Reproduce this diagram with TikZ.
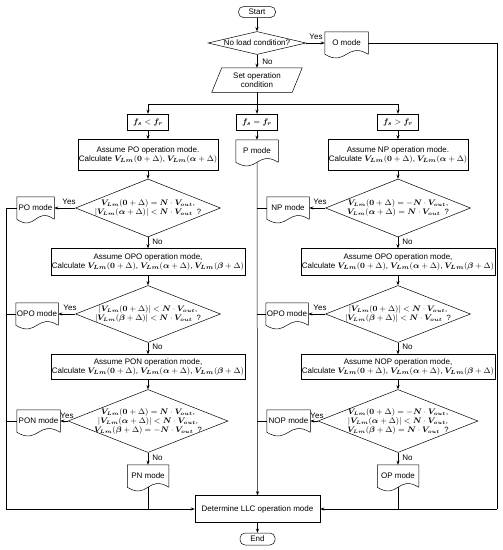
\documentclass[tikz,border=0pt]{standalone}
\usepackage{amsmath}
\usepackage[no-math]{fontspec}
\setmainfont{Liberation Sans}
\usetikzlibrary{shapes.geometric,arrows.meta,calc}
\newcommand{\VLm}[1]{\boldsymbol{V_{Lm}}(\boldsymbol{#1}+\Delta)}
\newcommand{\NV}{\boldsymbol{N}\cdot\boldsymbol{V_{out}}}
\begin{document}
\begin{tikzpicture}[x=1pt,y=-1pt,
  font=\fontsize{8}{9.6}\selectfont,
  line width=0.5pt,
  box/.style={draw, rectangle, align=center, inner sep=1pt},
  term/.style={draw, rectangle, rounded corners=5pt, inner sep=0pt, minimum width=37, minimum height=11},
  dec/.style={draw, diamond, inner sep=0pt, aspect=2},
  dtext/.style={align=center, font=\fontsize{7.6}{9}\selectfont},
  doc/.style={rectangle, inner sep=0pt, minimum width=42, minimum height=22, align=center},
  lab/.style={inner sep=0pt},
  arr/.style={-{Stealth[length=4pt,width=3pt]}}
]
\useasboundingbox (0,0) rectangle (503,550);

% top
\node[term] (start) at (257,12) {Start};
\node[dec, minimum width=98, minimum height=23, label=center:{No load condition?}] (d0) at (257,43) {};
\node[doc, minimum width=43] (omode) at (346.5,43) {O mode};
\node[rectangle, minimum width=90, minimum height=24, inner sep=0pt, align=center] (setop) at (257,80) {Set operation\\condition};
\draw ($(setop.south west)$) -- ($(setop.south east)+(-10,0)$) -- (setop.north east) -- ($(setop.north west)+(10,0)$) -- cycle;

% frequency boxes
\node[box, minimum width=41, minimum height=16] (fslt) at (148,122) {$\boldsymbol{f_s} < \boldsymbol{f_r}$};
\node[box, minimum width=41, minimum height=16] (fseq) at (257,122) {$\boldsymbol{f_s} = \boldsymbol{f_r}$};
\node[box, minimum width=41, minimum height=16] (fsgt) at (398,122) {$\boldsymbol{f_s} > \boldsymbol{f_r}$};
\coordinate (brL) at (148,104);
\coordinate (brR) at (398,104);
\node[doc] (pmode) at (257,151) {P mode};

% left column
\node[box, minimum width=131, minimum height=31] (po) at (148,155) {Assume PO operation mode.\\Calculate $\VLm{0}$, $\VLm{\alpha}$};
\node[dec, minimum width=145, minimum height=58, label={[dtext]center:{$\VLm{0} = \NV$,\\$|\VLm{\alpha}| < \NV$~~?}}] (dpo) at (148,208) {};
\node[doc, minimum width=37] (pomode) at (35.5,208) {PO mode};
\node[box, minimum width=178, minimum height=27] (opoL) at (148,262) {Assume OPO operation mode,\\Calculate $\VLm{0}$, $\VLm{\alpha}$, $\VLm{\beta}$};
\node[dec, minimum width=145, minimum height=57, label={[dtext]center:{$|\VLm{0}| < \NV$,\\$|\VLm{\beta}| < \NV$~~?}}] (dopoL) at (148,314) {};
\node[doc] (opomodeL) at (37,314) {OPO mode};
\node[box, minimum width=178, minimum height=25] (pon) at (148,367) {Assume PON operation mode,\\Calculate $\VLm{0}$, $\VLm{\alpha}$, $\VLm{\beta}$};
\node[dec, minimum width=160, minimum height=63, label={[dtext]center:{$\VLm{0} = \NV$,\\$|\VLm{\alpha}| < \NV$,\\$\VLm{\beta} = -\NV$~~?}}] (dpon) at (148,421) {};
\node[doc, minimum width=43] (ponmode) at (38.5,421) {PON mode};
\node[doc, minimum width=41] (pnmode) at (148,476) {PN mode};

% right column
\node[box, minimum width=131, minimum height=31] (np) at (398,155) {Assume NP operation mode.\\Calculate $\VLm{0}$, $\VLm{\alpha}$};
\node[dec, minimum width=145, minimum height=58, label={[dtext]center:{$\VLm{0} = -\NV$,\\$\VLm{\alpha} = \NV$~~?}}] (dnp) at (398,208) {};
\node[doc] (npmode) at (288,208) {NP mode};
\node[box, minimum width=178, minimum height=27] (opoR) at (398,262) {Assume OPO operation mode,\\Calculate $\VLm{0}$, $\VLm{\alpha}$, $\VLm{\beta}$};
\node[dec, minimum width=145, minimum height=57, label={[dtext]center:{$|\VLm{0}| < \NV$,\\$|\VLm{\beta}| < \NV$~~?}}] (dopoR) at (398,314) {};
\node[doc] (opomodeR) at (287,314) {OPO mode};
\node[box, minimum width=178, minimum height=25] (nop) at (398,367) {Assume NOP operation mode,\\Calculate $\VLm{0}$, $\VLm{\alpha}$, $\VLm{\beta}$};
\node[dec, minimum width=160, minimum height=63, label={[dtext]center:{$\VLm{0} = -\NV$,\\$|\VLm{\alpha}| < \NV$,\\$\VLm{\beta} = \NV$~~?}}] (dnop) at (398,421) {};
\node[doc, minimum width=43] (nopmode) at (288.5,421) {NOP mode};
\node[doc, minimum width=41] (opmode) at (398,476) {OP mode};

% bottom
\node[box, minimum width=125, minimum height=27] (det) at (257.5,509) {Determine LLC operation mode};
\node[term, minimum width=35, minimum height=12] (end) at (257.5,539) {End};

% document outlines
\foreach \n in {omode,pmode,pomode,opomodeL,ponmode,pnmode,npmode,opomodeR,nopmode,opmode}{
  \draw (\n.south east) -- (\n.north east) -- (\n.north west) -- (\n.south west)
    .. controls ($(\n.south)+(0,13)$) and ($(\n.south)+(0,-13)$) .. (\n.south east);
}

% labels
\node[lab] (y0) at (316,37) {Yes};
\node[lab, anchor=west] (n0) at (262,62) {No};
\node[lab] (y1) at (69,202) {Yes};
\node[lab, anchor=west] (n1) at (152,242) {No};
\node[lab] (y2) at (70,308) {Yes};
\node[lab, anchor=west] (n2) at (152,347) {No};
\node[lab] (y3) at (67,416) {Yes};
\node[lab, anchor=west] (n3) at (152,458) {No};
\node[lab] (y4) at (320,202) {Yes};
\node[lab, anchor=west] (n4) at (402,242) {No};
\node[lab] (y5) at (320,308) {Yes};
\node[lab, anchor=west] (n5) at (402,347) {No};
\node[lab] (y6) at (317,416) {Yes};
\node[lab, anchor=west] (n6) at (402,458) {No};

% connectors
\draw[arr] (start) -- (d0);
\draw[arr] (d0) -- (omode);
\draw[arr] (d0) -- (setop);
\draw[arr] (setop.south) -- (fseq.north);
\draw (brL) -- (brR);
\draw[arr] (brL) -- (fslt.north);
\draw[arr] (brR) -- (fsgt.north);
\draw[arr] (fseq) -- (pmode);
\draw[arr] (fslt) -- (po);
\draw[arr] (po) -- (dpo);
\draw[arr] (dpo) -- (pomode);
\draw[arr] (dpo) -- (opoL);
\draw[arr] (opoL) -- (dopoL);
\draw[arr] (dopoL) -- (opomodeL);
\draw[arr] (dopoL) -- (pon);
\draw[arr] (pon) -- (dpon);
\draw[arr] (dpon) -- (ponmode);
\draw[arr] (dpon) -- (pnmode);
\draw[arr] (fsgt) -- (np);
\draw[arr] (np) -- (dnp);
\draw[arr] (dnp) -- (npmode);
\draw[arr] (dnp) -- (opoR);
\draw[arr] (opoR) -- (dopoR);
\draw[arr] (dopoR) -- (opomodeR);
\draw[arr] (dopoR) -- (nop);
\draw[arr] (nop) -- (dnop);
\draw[arr] (dnop) -- (nopmode);
\draw[arr] (dnop) -- (opmode);

\coordinate (ltop) at (6,208);
\coordinate (lbot) at (6,509);
\coordinate (rtop) at (497,43);
\coordinate (rbot) at (497,509);
\draw (pomode.west) -- (ltop) -- (lbot);
\draw[arr] (lbot) -- (det.west);
\draw (opomodeL.west) -- (opomodeL.west -| ltop);
\draw (ponmode.west) -- (ponmode.west -| ltop);
\draw (pnmode.south) -- (pnmode.south |- lbot);
\draw (omode.east) -- (rtop) -- (rbot);
\draw[arr] (rbot) -- (det.east);
\draw (opmode.south) -- (opmode.south |- rbot);
\draw[arr] (pmode.south) -- (det.north);
\draw (npmode.west) -- (npmode.west -| pmode.south);
\draw (opomodeR.west) -- (opomodeR.west -| pmode.south);
\draw (nopmode.west) -- (nopmode.west -| pmode.south);
\draw[arr] (det) -- (end);
\end{tikzpicture}
\end{document}
